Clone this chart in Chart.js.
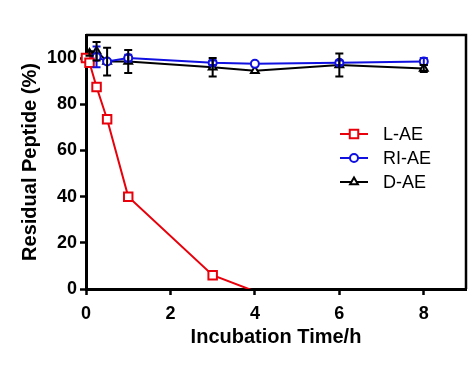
<!DOCTYPE html>
<html>
<head>
<meta charset="utf-8">
<script src="https://cdn.jsdelivr.net/npm/chart.js@4"></script>
<style>
html, body { margin: 0; padding: 0; background: #fff; }
</style>
</head>
<body>
<canvas id="chart" width="474" height="368"></canvas>
<script>
// values
const timeL = [0, 0.083, 0.25, 0.5, 1, 3, 4];
const peptideL = [100, 98, 87.5, 73.5, 40, 6, -1];
const timeRD = [0, 0.083, 0.25, 0.5, 1, 3, 4, 6, 8];
const peptideRI = [100, 98.5, 100.5, 98.5, 100, 98, 97.5, 98, 98.5];
const errRI = [0, 0, 4.5, 0, 1.5, 1, 0, 1, 1.5];
const peptideD = [100, 102, 103, 98.5, 98.5, 96, 94.5, 97, 95.5];
const errD = [0, 1, 4, 6, 5, 4, 0, 5, 1.5];
const xTicks = [0, 2, 4, 6, 8];
const yTicks = [0, 20, 40, 60, 80, 100];

function toPoints(xs, ys) {
    return xs.map((x, i) => ({ x: x, y: ys[i] }));
}

const errorBars = {
    id: 'errorBars',
    afterDatasetsDraw(chart) {
        const ctx = chart.ctx;
        const xs = chart.scales.x, ys = chart.scales.y;
        chart.data.datasets.forEach(ds => {
            if (!ds.errors) return;
            ctx.save();
            ctx.strokeStyle = ds.borderColor;
            ctx.lineWidth = 2;
            ds.data.forEach((p, j) => {
                const e = ds.errors[j];
                if (!e) return;
                const px = xs.getPixelForValue(p.x);
                const top = ys.getPixelForValue(p.y + e);
                const bot = ys.getPixelForValue(p.y - e);
                ctx.beginPath();
                ctx.moveTo(px, top); ctx.lineTo(px, bot);
                ctx.moveTo(px - 4, top); ctx.lineTo(px + 4, top);
                ctx.moveTo(px - 4, bot); ctx.lineTo(px + 4, bot);
                ctx.stroke();
            });
            ctx.restore();
        });
    }
};

function drawMarker(ctx, style, x, y, r) {
    ctx.beginPath();
    if (style === 'rect') {
        const s = r * Math.SQRT1_2;
        ctx.rect(x - s, y - s, 2 * s, 2 * s);
    } else if (style === 'triangle') {
        ctx.moveTo(x, y - r);
        ctx.lineTo(x + r * 0.866, y + r * 0.5);
        ctx.lineTo(x - r * 0.866, y + r * 0.5);
        ctx.closePath();
    } else {
        ctx.arc(x, y, r, 0, Math.PI * 2);
    }
    ctx.fill();
    ctx.stroke();
}

const frameAndLegend = {
    id: 'frameAndLegend',
    afterDraw(chart) {
        const ctx = chart.ctx;
        const a = chart.chartArea;
        ctx.save();
        // top and right frame
        ctx.strokeStyle = '#000';
        ctx.lineWidth = 2.5;
        ctx.beginPath();
        ctx.moveTo(a.left, a.top);
        ctx.lineTo(a.right, a.top);
        ctx.lineTo(a.right, a.bottom);
        ctx.stroke();

        // legend inside the plot
        const sizes = { rect: 6, circle: 4, triangle: 4.5 };
        ctx.font = '18px "Liberation Sans", Arial, sans-serif';
        ctx.textBaseline = 'middle';
        chart.data.datasets.forEach((ds, i) => {
            const y = a.top + 99 + i * 24;
            const x0 = a.right - 126, x1 = a.right - 98;
            ctx.strokeStyle = ds.borderColor;
            ctx.lineWidth = 2;
            ctx.beginPath();
            ctx.moveTo(x0, y); ctx.lineTo(x1, y);
            ctx.stroke();
            ctx.fillStyle = '#fff';
            drawMarker(ctx, ds.pointStyle, (x0 + x1) / 2, y, sizes[ds.pointStyle]);
            ctx.fillStyle = '#000';
            ctx.fillText(ds.label, a.right - 83, y + 1);
        });
        ctx.restore();
    }
};

const ctx = document.getElementById('chart').getContext('2d');
new Chart(ctx, {
    type: 'scatter',
    data: {
        datasets: [{
            label: 'L-AE',
            data: toPoints(timeL, peptideL),
            borderColor: '#e8000b',
            backgroundColor: '#fff',
            pointStyle: 'rect',
            pointRadius: c => (c.raw && c.raw.y < 0 ? 0 : 6),
            pointBorderWidth: 2,
            borderWidth: 2,
            showLine: true,
            clip: { left: 10, top: 10, right: 10, bottom: 0 }
        }, {
            label: 'RI-AE',
            data: toPoints(timeRD, peptideRI),
            errors: errRI,
            borderColor: '#1010e0',
            backgroundColor: '#fff',
            pointStyle: 'circle',
            pointRadius: 4,
            pointBorderWidth: 2,
            borderWidth: 2,
            showLine: true,
            clip: { left: 10, top: 10, right: 10, bottom: 0 }
        }, {
            label: 'D-AE',
            data: toPoints(timeRD, peptideD),
            errors: errD,
            borderColor: '#000',
            backgroundColor: '#fff',
            pointStyle: 'triangle',
            pointRadius: 4.5,
            pointBorderWidth: 2,
            borderWidth: 2,
            showLine: true,
            clip: { left: 10, top: 10, right: 10, bottom: 0 }
        }]
    },
    options: {
        responsive: false,
        animation: false,
        layout: { padding: { top: 35, right: 8, left: 0, bottom: 0 } },
        plugins: {
            legend: { display: false },
            tooltip: { enabled: false }
        },
        scales: {
            x: {
                type: 'linear',
                min: 0,
                max: 9,
                afterBuildTicks: s => { s.ticks = xTicks.map(v => ({ value: v })); },
                afterFit: s => { s.height = 79; },
                border: { color: '#000', width: 3 },
                grid: { drawOnChartArea: false, tickLength: 6, tickWidth: 2.5, tickColor: '#000' },
                ticks: {
                    color: '#000',
                    padding: 8,
                    font: { family: '"Liberation Sans", Arial, sans-serif', size: 18, weight: 'bold' }
                },
                title: {
                    display: true,
                    text: 'Incubation Time/h',
                    color: '#000',
                    padding: { top: 0, bottom: 19 },
                    font: { family: '"Liberation Sans", Arial, sans-serif', size: 20, weight: 'bold' }
                }
            },
            y: {
                min: 0,
                max: 110,
                afterBuildTicks: s => { s.ticks = yTicks.map(v => ({ value: v })); },
                afterFit: s => { s.width = 86; },
                border: { color: '#000', width: 3 },
                grid: { drawOnChartArea: false, tickLength: 6, tickWidth: 2.5, tickColor: '#000' },
                ticks: {
                    color: '#000',
                    padding: 3,
                    font: { family: '"Liberation Sans", Arial, sans-serif', size: 18, weight: 'bold' }
                },
                title: {
                    display: true,
                    text: 'Residual Peptide (%)',
                    color: '#000',
                    padding: { top: 18, bottom: 0 },
                    font: { family: '"Liberation Sans", Arial, sans-serif', size: 20, weight: 'bold' }
                }
            }
        }
    },
    plugins: [errorBars, frameAndLegend]
});
</script>
</body>
</html>
